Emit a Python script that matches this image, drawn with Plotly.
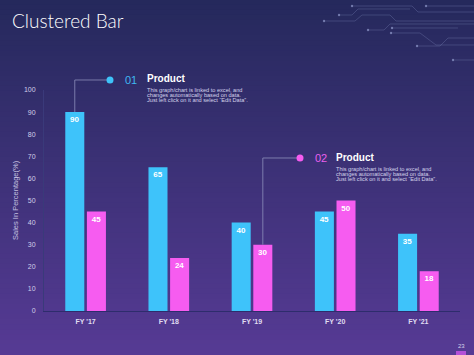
import plotly.graph_objects as go

# ---- data ----
categories = ["FY '17", "FY '18", "FY '19", "FY '20", "FY '21"]
product_01 = [90, 65, 40, 45, 35]
product_02 = [45, 24, 30, 50, 18]
y_ticks = [0, 10, 20, 30, 40, 50, 60, 70, 80, 90, 100]

W, H = 474, 355
ML, MR, MT, MB = 44, 14, 90, 44
PW, PH = W - ML - MR, H - MT - MB

def px(x):
    return (x - ML) / PW

def py(y):
    return (H - MB - y) / PH

BLUE = "#3ec3fa"
PINK = "#f65cf0"

fig = go.Figure()
fig.add_bar(x=categories, y=product_01, marker=dict(color=BLUE, line=dict(width=0)),
            texttemplate="<b>%{y}</b>", textposition="inside", insidetextanchor="end",
            textfont=dict(color="white", size=8, family="Liberation Sans"), name="01")
fig.add_bar(x=categories, y=product_02, marker=dict(color=PINK, line=dict(width=0)),
            texttemplate="<b>%{y}</b>", textposition="inside", insidetextanchor="end",
            textfont=dict(color="white", size=8, family="Liberation Sans"), name="02")

shapes = []
# gradient background
N = 70
top = (37, 41, 92)
bot = (86, 58, 148)
y0p, y1p = py(H), py(0)
for i in range(N):
    t = i / (N - 1)
    c = tuple(int(round(top[k] + (bot[k] - top[k]) * t)) for k in range(3))
    ya = y1p - (y1p - y0p) * i / N
    yb = y1p - (y1p - y0p) * (i + 1) / N
    shapes.append(dict(type="rect", xref="paper", yref="paper", x0=px(-2), x1=px(W + 2),
                       y0=yb - 0.002, y1=ya + 0.002, fillcolor="rgb(%d,%d,%d)" % c,
                       line=dict(width=0), layer="below"))

# circuit decoration (top right)
circ = [
    [(352, 6), (412, 6), (418, 12), (474, 12)],
    [(426, 6), (474, 6)],
    [(339, 15), (352, 15), (358, 9), (410, 9)],
    [(324, 21), (355, 21), (362, 15), (390, 15), (396, 21), (474, 21)],
    [(368, 30), (384, 30), (390, 24), (474, 24)],
    [(392, 28), (458, 28)],
    [(391, 33), (420, 33), (436, 45), (474, 45)],
    [(417, 46), (440, 46), (448, 38), (474, 38)],
    [(453, 60), (474, 60)],
]
for seg in circ:
    path = "M " + " L ".join("%f,%f" % (px(a), py(b)) for a, b in seg)
    shapes.append(dict(type="path", xref="paper", yref="paper", path=path,
                       line=dict(color="rgba(140,150,200,0.35)", width=0.8), layer="below"))
    a, b = seg[0]
    shapes.append(dict(type="circle", xref="paper", yref="paper", xsizemode="pixel", ysizemode="pixel",
                       xanchor=px(a), yanchor=py(b), x0=-1.2, x1=1.2, y0=-1.2, y1=1.2,
                       fillcolor="rgba(160,170,220,0.6)", line=dict(width=0), layer="below"))

off = (1 - 0.48) / 4
# connector 01
x_b = 0 - off
x_dot1 = (110 - ML) / (PW / 5) - 0.5
shapes.append(dict(type="path", xref="x", yref="paper",
                   path="M %f,%f L %f,%f L %f,%f" % (x_b, product_01[0] / 100, x_b, py(80), x_dot1, py(80)),
                   line=dict(color="#8d8fbb", width=0.8)))
shapes.append(dict(type="circle", xref="x", yref="paper", xsizemode="pixel", ysizemode="pixel",
                   xanchor=x_dot1, yanchor=py(80), x0=-3.5, x1=3.5, y0=-3.5, y1=3.5,
                   fillcolor=BLUE, line=dict(width=0)))
# connector 02
x_p = 2 + off
x_dot2 = (300 - ML) / (PW / 5) - 0.5
shapes.append(dict(type="path", xref="x", yref="paper",
                   path="M %f,%f L %f,%f L %f,%f" % (x_p, product_02[2] / 100, x_p, py(158), x_dot2, py(158)),
                   line=dict(color="#8d8fbb", width=0.8)))
shapes.append(dict(type="circle", xref="x", yref="paper", xsizemode="pixel", ysizemode="pixel",
                   xanchor=x_dot2, yanchor=py(158), x0=-3.5, x1=3.5, y0=-3.5, y1=3.5,
                   fillcolor=PINK, line=dict(width=0)))
# page marker
shapes.append(dict(type="rect", xref="paper", yref="paper", x0=px(456), x1=px(466),
                   y0=py(355), y1=py(351), fillcolor="#b44fd8", line=dict(width=0)))

desc_lines = ["This graph/chart is linked to excel, and",
              "changes automatically based on data.",
              "Just left click on it and select \u201cEdit Data\u201d."]
ann = []
def A(text, x, y, size, color, xanchor="left", yanchor="middle", family="Liberation Sans", weight=None, **kw):
    f = dict(size=size, color=color, family=family)
    if weight:
        f["weight"] = weight
    ann.append(dict(text=text, x=px(x), y=py(y), xref="paper", yref="paper", showarrow=False,
                    xanchor=xanchor, yanchor=yanchor, font=f, align="left", **kw))

A("Clustered Bar", 10, 20, 19, "#ffffff", family="Lato", weight=300)
A("01", 123, 80, 11, "#3fb7f2", weight=500)
A("<b>Product</b>", 145, 79, 10, "#ffffff")
for i, line in enumerate(desc_lines):
    A(line, 145, 90 + 5 * i, 5.6, "#d4d2ea")
A("02", 313, 158, 11, "#e860ee", weight=500)
A("<b>Product</b>", 334, 157, 10, "#ffffff")
for i, line in enumerate(desc_lines):
    A(line, 334, 169 + 5 * i, 5.6, "#d4d2ea")
A("23", 461, 346, 6, "#d4d2ea", xanchor="center")
A("Sales In Percentage(%)", 15, 200, 7.5, "#c4c0e0", xanchor="center", textangle=-90)

fig.update_layout(
    width=W, height=H, margin=dict(l=ML, r=MR, t=MT, b=MB, pad=0),
    paper_bgcolor="#3a3278", plot_bgcolor="rgba(0,0,0,0)",
    barmode="group", bargap=0.48, bargroupgap=0.12,
    showlegend=False, shapes=shapes, annotations=ann,
    font=dict(family="Liberation Sans", color="#d4d2ea"),
)
fig.update_xaxes(showgrid=False, showline=True, linecolor="#2e2c6c", linewidth=1,
                 tickfont=dict(size=7, color="#e0def2", family="Liberation Sans"),
                 ticks="", ticklabelstandoff=4, zeroline=False,
                 tickvals=categories, ticktext=["<b>%s</b>" % c for c in categories])
fig.update_yaxes(range=[0, 100], tickvals=y_ticks, showgrid=False, zeroline=False,
                 showline=True, linecolor="#3a3a7a", linewidth=1, ticks="",
                 tickfont=dict(size=7, color="#d0cee8", family="Liberation Sans"),
                 ticklabelstandoff=6)

fig.write_html("out.html", config={"displayModeBar": False},
               post_script="document.body.style.margin='0';document.body.style.padding='0';document.body.style.overflow='hidden';")
